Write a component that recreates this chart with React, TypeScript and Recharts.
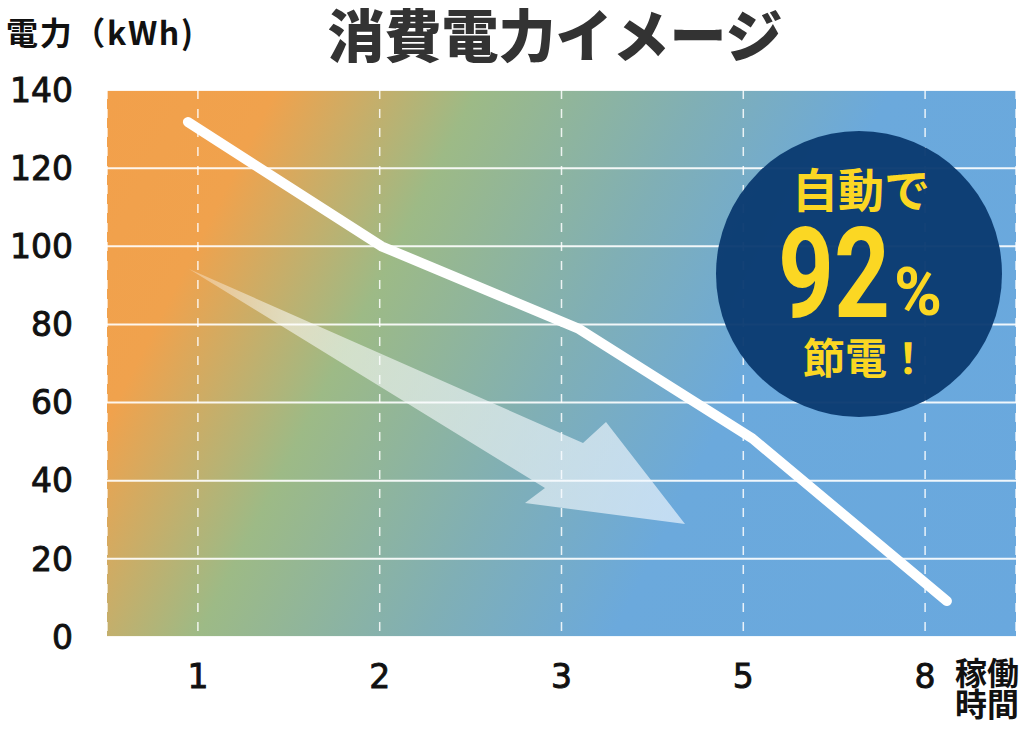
import React from 'react';
import { LineChart, Line, XAxis, YAxis, CartesianGrid } from 'recharts';

// Hour categories shown on the X axis
const hourLabels = ['1', '2', '3', '5', '8'];
// Position of each point along the category axis (1 = first category)
const pointPositions = [0.945, 2.01, 3.09, 4.05, 5.12];
// Power consumption (kWh)
const powerValues = [131.8, 100, 79, 50.8, 9.2];
// Y axis ticks
const yTicks = [0, 20, 40, 60, 80, 100, 120, 140];
const xTicks = [1, 2, 3, 4, 5];

const data = pointPositions.map((x, i) => ({ x, kwh: powerValues[i] }));

const tickFont = {
  fontSize: 33,
  fill: '#111',
  stroke: '#111',
  strokeWidth: 0.9,
  fontFamily: '"DejaVu Sans", sans-serif',
  fontWeight: 400,
};
const jp = '"Noto Sans CJK JP", "Noto Sans", sans-serif';

export default function App() {
  return (
    <div style={{ position: 'absolute', left: 0, top: 0, width: 1024, height: 738, background: '#fff', overflow: 'hidden' }}>
      <svg width={0} height={0} style={{ position: 'absolute' }}>
        <defs>
          <linearGradient id="bgGrad" gradientUnits="userSpaceOnUse" x1={110} y1={90} x2={1049} y2={569}>
            <stop offset="0" stopColor="#F2A04B" />
            <stop offset="0.14" stopColor="#F0A24D" />
            <stop offset="0.31" stopColor="#9DBA86" />
            <stop offset="0.5" stopColor="#80AFB5" />
            <stop offset="0.66" stopColor="#6BA9DC" />
            <stop offset="1" stopColor="#69A8DE" />
          </linearGradient>
          <linearGradient id="arrowGrad" x1="0" y1="0" x2="1" y2="0">
            <stop offset="0" stopColor="#ffffff" stopOpacity={0.3} />
            <stop offset="0.2" stopColor="#ffffff" stopOpacity={0.55} />
            <stop offset="1" stopColor="#f2f8ff" stopOpacity={0.65} />
          </linearGradient>
        </defs>
      </svg>
      <LineChart width={1024} height={738} data={data} margin={{ top: 90, right: 8, bottom: 41, left: 0 }}>
        <CartesianGrid vertical={false} stroke="#ffffff" strokeOpacity={0.9} strokeWidth={2} fill="url(#bgGrad)" fillOpacity={1} />
        <CartesianGrid horizontal={false} stroke="#ffffff" strokeOpacity={0.85} strokeWidth={1.5} strokeDasharray="9 10" />
        <XAxis
          type="number"
          dataKey="x"
          domain={[0.5, 5.5]}
          ticks={xTicks}
          tickFormatter={(v: number) => hourLabels[v - 1]}
          axisLine={false}
          tickLine={false}
          tickSize={0}
          tickMargin={28}
          height={60}
          tick={tickFont}
          interval={0}
        />
        <YAxis
          domain={[0, 140]}
          ticks={yTicks}
          axisLine={false}
          tickLine={false}
          tickSize={0}
          tickMargin={34}
          width={107}
          tick={tickFont}
          interval={0}
        />
        <Line
          type="linear"
          dataKey="kwh"
          stroke="#ffffff"
          strokeWidth={10}
          strokeLinecap="round"
          strokeLinejoin="round"
          dot={false}
          activeDot={false}
          isAnimationActive={false}
        />
      </LineChart>
      <svg width={1024} height={738} style={{ position: 'absolute', left: 0, top: 0, pointerEvents: 'none' }}>
        <polygon points="189,269 583,443 606,422 685,524 525,503 545,488" fill="url(#arrowGrad)" />
        <circle cx={859} cy={274} r={143} fill="#0A3A70" fillOpacity={0.96} />
        <text x={861} y={207} textAnchor="middle" fontFamily={jp} fontWeight={700} fontSize={46} fill="#FBD723">自動で</text>
        <text x={778} y={317} fontFamily="Roboto, sans-serif" fontWeight={700} fontSize={127} fill="#FBD723" textLength={112} lengthAdjust="spacingAndGlyphs">92</text>
        <text x={894} y={315} fontFamily="Roboto, sans-serif" fontWeight={700} fontSize={66} fill="#FBD723" textLength={48} lengthAdjust="spacingAndGlyphs">%</text>
        <text x={866} y={374} textAnchor="middle" fontFamily={jp} fontWeight={700} fontSize={42} fill="#FBD723">節電！</text>
        <text x={555} y={57} textAnchor="middle" fontFamily={jp} fontWeight={900} fontSize={57} fill="#333333">消費電力イメージ</text>
        <text x={6} y={45} fontFamily={jp} fontWeight={700} fontSize={32} fill="#111" textLength={187} lengthAdjust="spacing">電力（kWh)</text>
        <text x={955} y={685} fontFamily={jp} fontWeight={700} fontSize={32} fill="#111">稼働</text>
        <text x={955} y={716} fontFamily={jp} fontWeight={700} fontSize={32} fill="#111">時間</text>
      </svg>
    </div>
  );
}
